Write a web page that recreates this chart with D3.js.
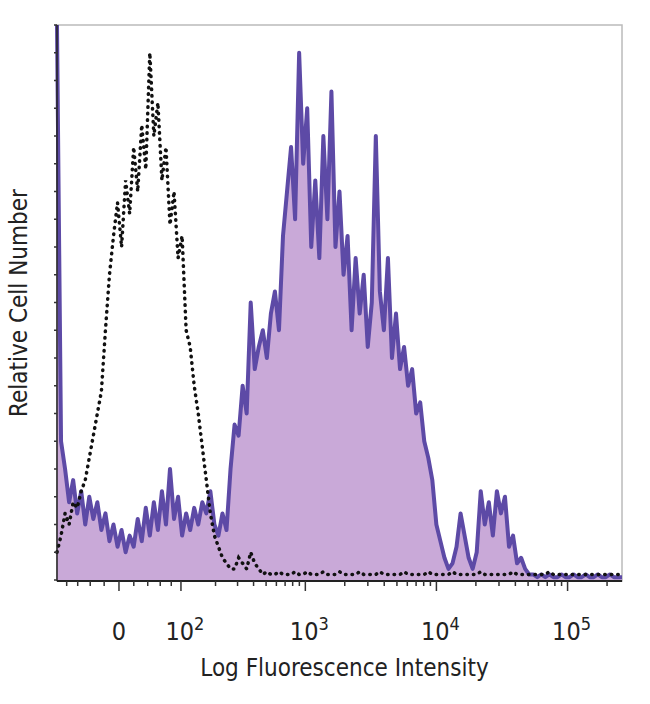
<!DOCTYPE html>
<html><head><meta charset="utf-8">
<script src="https://cdn.jsdelivr.net/npm/d3@7/dist/d3.min.js"></script>
<style>body{margin:0;background:#fff}</style>
</head><body>
<div class="chart"></div>
<script>
// histogram counts per bin (0..100 relative), bins evenly spaced on the display scale
var stained = [100,25,20,14,18,12,16,10,15,11,14,9,12,7,10,6,9,5,8,6,11,7,13,8,14,9,16,10,20,11,
  15,8,12,9,13,10,14,12,16,10,8,12,9,20,28,26,35,30,50,38,42,45,40,48,52,45,62,70,78,65,
  95,75,85,60,72,58,80,65,88,60,70,55,62,45,58,48,55,42,50,80,52,45,58,40,48,38,42,35,38,30,
  32,25,22,18,10,7,4,2,3,6,12,8,4,2,5,16,10,14,8,16,12,15,6,8,3,4,2,1,1,0.5,
  1,0.5,1,0.5,0.5,1,0.5,0.5,1,0.5,0.5,1,0.5,0.5,1,0.5,0.5,1,0.5,0.5,0.5];
var control = [5,8,12,10,14,13,16,18,22,26,30,34,45,55,62,68,60,72,66,78,70,82,74,95,80,86,72,78,64,70,
  58,62,45,42,35,30,24,18,12,8,6,4,3,2,2,4,3,2,5,3,2,1,1.5,1,1,1.5,1,1,1,1.5,
  1,1,1.5,1,1,1,1.5,1,1,1,1.5,1,1,1,1,1.5,1,1,1,1,1.5,1,1,1,1,1,1.5,1,1,1,
  1,1,1.5,1,1,1,1,1,1.5,1,1,1,1,1,1,1.5,1,1,1,1,1,1,1,1.5,1,1,1,1,1,1,
  1,1,1.5,1,1,1,1,1,1,1,1,1,1,1,1,1,1,1,1,1,1];
var majorTicks = [0, 100, 1000, 10000, 100000];
var tickExp = ["", "2", "3", "4", "5"];
var xDomain = [-100, 260000];

var W = 650, H = 704;
var mLeft = 57, mRight = 622, mTop = 25, mBottom = 581;
var font = "'Liberation Sans Narrow', 'DejaVu Sans Condensed', sans-serif";

// biexponential-like display transform
var w = 38;
function tr(v) { return Math.asinh(v / (2 * w)) / Math.LN10; }

var x = d3.scaleLinear().domain(xDomain.map(tr)).range([mLeft, mRight]);
var y = d3.scaleLinear().domain([0, 100]).range([mBottom - 1, mTop]);

var svg = d3.select(".chart").append("svg").attr("width", W).attr("height", H);

var n = stained.length;
var t0 = tr(xDomain[0]), t1 = tr(xDomain[1]);
function binT(i) { return t0 + i * (t1 - t0) / (n - 1); }

// frame
svg.append("rect").attr("x", mLeft).attr("y", mTop).attr("width", mRight - mLeft).attr("height", mBottom - mTop)
  .attr("fill", "none").attr("stroke", "#bbb").attr("stroke-width", 1.5);

var area = d3.area()
  .x(function(d, i) { return x(binT(i)); })
  .y0(y(0)).y1(function(d) { return y(d); });
var line = d3.line()
  .x(function(d, i) { return x(binT(i)); })
  .y(function(d) { return y(d); });

svg.append("path").datum(stained).attr("d", area).attr("fill", "#c9a9d8");
svg.append("path").datum(stained).attr("d", line).attr("fill", "none")
  .attr("stroke", "#5d4aa6").attr("stroke-width", 4).attr("stroke-linejoin", "round");

svg.append("path").datum(control).attr("d", line).attr("fill", "none")
  .attr("stroke", "#111").attr("stroke-width", 3.5).attr("stroke-linecap", "round")
  .attr("stroke-dasharray", "0.5,6");

// axes lines
svg.append("line").attr("x1", mLeft).attr("x2", mRight).attr("y1", mBottom).attr("y2", mBottom)
  .attr("stroke", "#222").attr("stroke-width", 2);
svg.append("line").attr("x1", mLeft).attr("x2", mLeft).attr("y1", mTop).attr("y2", mBottom)
  .attr("stroke", "#222").attr("stroke-width", 1.5);

// minor ticks
var minor = [-80, -60, -40, -20, 20, 40, 60, 80];
for (var d = 100; d <= 100000; d *= 10) for (var k = 2; k < 10; k++) { if (k * d < xDomain[1]) minor.push(k * d); }
svg.selectAll(".minor").data(minor).enter().append("line")
  .attr("x1", function(v) { return x(tr(v)); }).attr("x2", function(v) { return x(tr(v)); })
  .attr("y1", mBottom).attr("y2", mBottom + 5).attr("stroke", "#333").attr("stroke-width", 1.5);
svg.selectAll(".major").data(majorTicks).enter().append("line")
  .attr("x1", function(v) { return x(tr(v)); }).attr("x2", function(v) { return x(tr(v)); })
  .attr("y1", mBottom).attr("y2", mBottom + 10).attr("stroke", "#333").attr("stroke-width", 1.5);

// left minor ticks
svg.selectAll(".ytick").data(d3.range(0, 101, 5)).enter().append("line")
  .attr("x1", mLeft - 3).attr("x2", mLeft).attr("y1", function(d) { return y(d); }).attr("y2", function(d) { return y(d); })
  .attr("stroke", "#333").attr("stroke-width", 1.5);

var lab = svg.selectAll(".tlab").data(majorTicks).enter().append("text")
  .attr("x", function(v, i) { return x(tr(v)) + (i === 0 ? 0 : 4); })
  .attr("y", 640).attr("text-anchor", "middle")
  .attr("font-family", font).attr("font-size", 25).attr("fill", "#222");
lab.append("tspan").text(function(v, i) { return i === 0 ? "0" : "10"; });
lab.append("tspan").attr("dy", -10).attr("font-size", 18).text(function(v, i) { return tickExp[i]; });

svg.append("text").attr("x", (mLeft + mRight) / 2 + 5).attr("y", 676).attr("text-anchor", "middle")
  .attr("font-family", font).attr("font-size", 24).attr("fill", "#222").text("Log Fluorescence Intensity");

svg.append("text").attr("transform", "translate(27," + (mTop + mBottom) / 2 + ") rotate(-90)")
  .attr("text-anchor", "middle")
  .attr("font-family", font).attr("font-size", 24).attr("fill", "#222").text("Relative Cell Number");
</script>
</body></html>
